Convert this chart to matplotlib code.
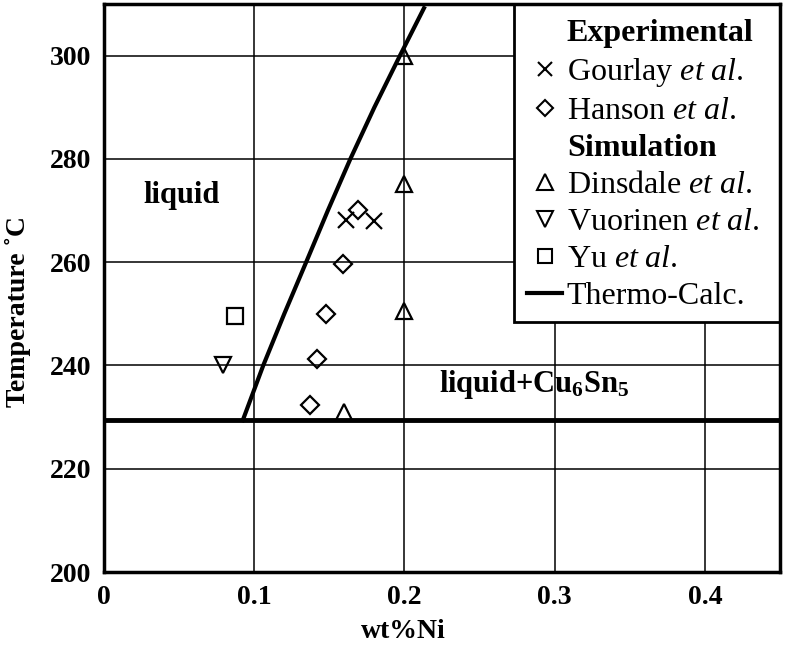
import matplotlib
matplotlib.use("Agg")
import matplotlib.pyplot as plt
from matplotlib.lines import Line2D
from matplotlib.patches import Rectangle

plt.rcParams['font.family'] = ['Liberation Serif', 'DejaVu Serif']
plt.rcParams['mathtext.fontset'] = 'custom'
plt.rcParams['mathtext.rm'] = 'Liberation Serif'
plt.rcParams['mathtext.it'] = 'Liberation Serif:italic'
plt.rcParams['mathtext.bf'] = 'Liberation Serif:bold'

# experimental data
gourlay_x = [0.161, 0.180]
gourlay_t = [268.2, 268.0]
hanson_x = [0.169, 0.159, 0.148, 0.142, 0.137]
hanson_t = [270.2, 259.6, 250.0, 241.3, 232.4]

# simulation data
dinsdale_x = [0.2, 0.2, 0.2, 0.16]
dinsdale_t = [300.0, 275.2, 250.5, 231.0]
vuorinen_x = [0.079]
vuorinen_t = [240.0]
yu_x = [0.087]
yu_t = [249.6]

# Thermo-Calc liquidus
tc_x = [0.0924, 0.106, 0.120, 0.135, 0.149, 0.164, 0.180, 0.197, 0.213]
tc_t = [229.4, 240, 250, 260.3, 270, 280, 290, 300, 309.2]
eutectic_t = 229.5

fig = plt.figure(figsize=(7.85, 6.47), dpi=100)
ax = fig.add_axes([0.1325, 0.1159, 0.8611, 0.8779])

ax.set_xlim(0, 0.45)
ax.set_ylim(200, 310)
ax.set_xticks([0, 0.1, 0.2, 0.3, 0.4])
ax.set_xticklabels(["0", "0.1", "0.2", "0.3", "0.4"])
ax.set_yticks([200, 220, 240, 260, 280, 300])
ax.grid(True, color='black', linewidth=1.1)
ax.set_axisbelow(True)
ax.tick_params(length=0, labelsize=20, pad=9)
for lab in ax.get_xticklabels() + ax.get_yticklabels():
    lab.set_fontweight('bold')
for sp in ax.spines.values():
    sp.set_linewidth(2.5)
    sp.set_color('black')
    sp.set_zorder(6)

ax.axhline(eutectic_t, color='black', linewidth=3.5)
ax.plot(tc_x, tc_t, color='black', linewidth=3)

mk = dict(linestyle='none', markerfacecolor='none', markeredgecolor='black', markeredgewidth=1.6)
ax.plot(gourlay_x, gourlay_t, marker='x', markersize=12, color='black', linestyle='none', markeredgewidth=1.6)
ax.plot(hanson_x, hanson_t, marker='D', markersize=9, **mk)
ax.plot(dinsdale_x, dinsdale_t, marker='^', markersize=12, **mk)
ax.plot(vuorinen_x, vuorinen_t, marker='v', markersize=12, **mk)
ax.plot(yu_x, yu_t, marker='s', markersize=11.5, **mk)

ax.text(0.0513, 272.9, "liquid", fontsize=22, fontweight='bold', ha='center', va='center')
ax.text(0.223, 236.3, "liquid+Cu$_\\mathbf{6}$Sn$_\\mathbf{5}$", fontsize=22, fontweight='bold',
        ha='left', va='center')

ax.set_xlabel("wt%Ni", fontsize=20, fontweight='bold')
ax.xaxis.set_label_coords(0.442, -0.104)
ax.xaxis.label.set_va('center')
ax.set_ylabel("Temperature ˚C", fontsize=20, fontweight='bold')
ax.yaxis.set_label_coords(-0.128, 0.458)
ax.yaxis.label.set_va('center')

# legend frame drawn separately so its padding matches the reference
ax.add_patch(Rectangle((0.6065, 0.44), 0.3935, 0.56, transform=ax.transAxes,
                       facecolor='white', edgecolor='black', linewidth=2, zorder=4))

blank = Line2D([], [], linestyle='none', marker='none')
lm = dict(linestyle='none', markerfacecolor='none', markeredgecolor='black', markeredgewidth=1.5)
handles = [
    blank,
    Line2D([], [], marker='x', markersize=10.5, color='black', linestyle='none', markeredgewidth=1.5),
    Line2D([], [], marker='D', markersize=8, **lm),
    blank,
    Line2D([], [], marker='^', markersize=11, **lm),
    Line2D([], [], marker='v', markersize=11, **lm),
    Line2D([], [], marker='s', markersize=10.5, **lm),
    Line2D([], [], color='black', linewidth=3),
]
labels = [
    "Experimental",
    "Gourlay $\\it{et\\ al}$.",
    "Hanson $\\it{et\\ al}$.",
    "Simulation",
    "Dinsdale $\\it{et\\ al}$.",
    "Vuorinen $\\it{et\\ al}$.",
    "Yu $\\it{et\\ al}$.",
    "Thermo-Calc.",
]
leg = ax.legend(handles, labels, loc='upper left', bbox_to_anchor=(0.6257, 0.974), borderaxespad=0,
                fontsize=23, frameon=False, handlelength=1.1, handletextpad=0.15,
                labelspacing=0.24, borderpad=0)
leg.set_zorder(5)
for i in (0, 3):
    leg.get_texts()[i].set_fontweight('bold')

fig.savefig("out.png", dpi=100)
